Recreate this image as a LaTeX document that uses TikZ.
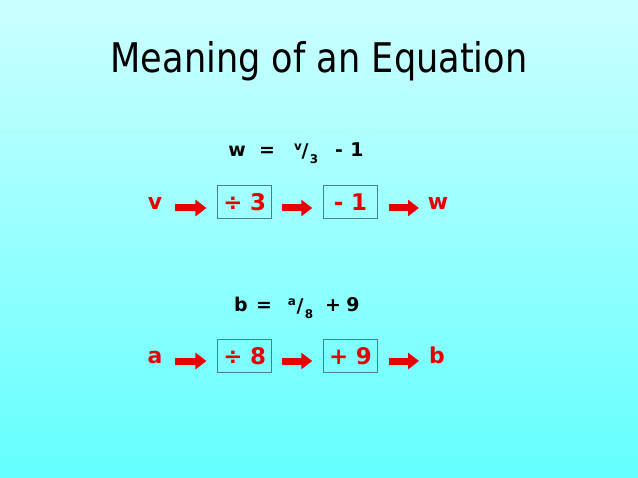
\documentclass[tikz,border=0pt]{standalone}
\usepackage{fontspec}
\setmainfont{DejaVu Sans}
\usetikzlibrary{arrows.meta}
\definecolor{bgtop}{RGB}{204,255,255}
\definecolor{bgbot}{RGB}{100,255,255}
\definecolor{arrred}{RGB}{232,0,0}
\definecolor{boxline}{RGB}{70,130,135}
\begin{document}
\begin{tikzpicture}[x=1bp,y=-1bp,
  eq/.style={font=\bfseries\fontsize{19}{19}\selectfont, anchor=base, inner sep=0pt},
  small/.style={font=\bfseries\fontsize{12}{12}\selectfont, anchor=base, inner sep=0pt},
  lab/.style={text=arrred, font=\bfseries\fontsize{22}{22}\selectfont, anchor=base, inner sep=0pt},
  opbox/.style={draw=boxline, line width=1bp, minimum width=53.5bp, minimum height=33bp,
    inner sep=0pt, text=arrred, font=\bfseries\fontsize{23}{23}\selectfont},
  flow/.style={arrred, line width=7bp, -{Triangle[length=11bp,width=16bp]}}]
\shade[top color=bgtop, bottom color=bgbot] (0,0) rectangle (638,478);
\useasboundingbox (0,0) rectangle (638,478);

% title
\node[anchor=base, inner sep=0pt] (title) at (319,73)
  {\scalebox{0.86}[1]{\fontsize{41}{41}\selectfont Meaning of an Equation}};

% equation 1
\node[eq] (e1w) at (237,157) {w};
\node[eq] (e1eq) at (267,157) {=};
\node[small] (e1v) at (298,151) {v};
\node[eq] (e1sl) at (305,158) {/};
\node[small] (e1d) at (314,164) {3};
\node[eq] (e1m) at (339,157) {-};
\node[eq] (e1one) at (357,157) {1};

% row 1
\node[lab] (v) at (155,210) {v};
\node[opbox] (b1) at (244.7,201.7) {÷\,\,3};
\node[opbox] (b2) at (350.5,201.7) {-\,\,1};
\node[lab] (w) at (438,210) {w};
\coordinate (r1) at (0,208);
\draw[flow, shorten <=20bp, shorten >=11bp] (v.center |- r1) -- (b1.west |- r1);
\draw[flow, shorten <=10.3bp, shorten >=11bp] (b1.east |- r1) -- (b2.west |- r1);
\draw[flow, shorten <=11bp, shorten >=19bp] (b2.east |- r1) -- (w.center |- r1);

% equation 2
\node[eq] (e2b) at (241,311) {b};
\node[eq] (e2eq) at (264,311) {=};
\node[small] (e2a) at (292,305) {a};
\node[eq] (e2sl) at (300,312) {/};
\node[small] (e2d) at (309,318) {8};
\node[eq] (e2p) at (333,311) {+};
\node[eq] (e2nine) at (353,311) {9};

% row 2
\node[lab] (a) at (155,363) {a};
\node[opbox] (c1) at (244.7,355.7) {÷\,\,8};
\node[opbox] (c2) at (350.5,355.7) {+\,\,9};
\node[lab] (b) at (437,363) {b};
\coordinate (r2) at (0,361);
\draw[flow, shorten <=20bp, shorten >=11bp] (a.center |- r2) -- (c1.west |- r2);
\draw[flow, shorten <=10.3bp, shorten >=11bp] (c1.east |- r2) -- (c2.west |- r2);
\draw[flow, shorten <=11bp, shorten >=18bp] (c2.east |- r2) -- (b.center |- r2);
\end{tikzpicture}
\end{document}
